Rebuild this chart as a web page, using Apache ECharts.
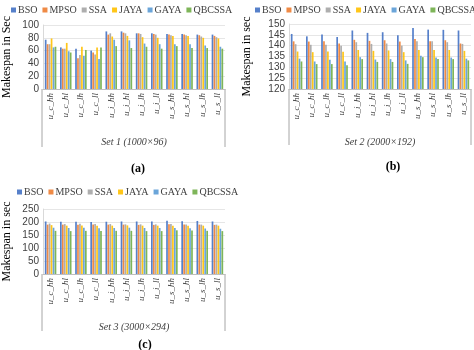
<!DOCTYPE html>
<html>
<head>
<meta charset="utf-8">
<script src="https://cdn.jsdelivr.net/npm/echarts@6/dist/echarts.min.js"></script>
<style>
  html, body { margin: 0; padding: 0; background: #fff; }
  #chart { width: 474px; height: 350px; }
</style>
</head>
<body>
<div id="chart"></div>
<script>
// categories and algorithms
const categories = ["u_c_hh", "u_c_hl", "u_c_lh", "u_c_ll", "u_i_hh", "u_i_hl", "u_i_lh", "u_i_ll", "u_s_hh", "u_s_hl", "u_s_lh", "u_s_ll"];
const algos = ["BSO", "MPSO", "SSA", "JAYA", "GAYA", "QBCSSA"];
const colors = ["#4472C4", "#ED7D31", "#A5A5A5", "#FFC000", "#5B9BD5", "#70AD47"];

// Set 1 (1000x96)
const set1BSO = [77, 65, 63, 60, 90, 90, 87, 87, 86, 86, 85, 85];
const set1MPSO = [70, 63, 48, 57, 85, 88, 87, 86, 85, 85, 84, 83];
const set1SSA = [70, 63, 53, 54, 87, 87, 86, 85, 84, 84, 82, 81];
const set1JAYA = [79, 72, 66, 65, 82, 83, 81, 80, 83, 83, 80, 79];
const set1GAYA = [65, 59, 52, 47, 77, 76, 71, 70, 70, 70, 68, 66];
const set1QBCSSA = [66, 57, 61, 65, 67, 64, 66, 63, 67, 64, 64, 63];

// Set 2 (2000x192)
const set2BSO = [145.4, 144.3, 145.1, 144.0, 147.0, 145.9, 146.2, 144.8, 148.2, 147.4, 147.3, 147.0];
const set2MPSO = [142.0, 141.9, 142.0, 141.0, 142.7, 142.2, 142.5, 141.9, 143.1, 142.0, 142.5, 141.0];
const set2SSA = [140.7, 140.4, 140.4, 140.0, 141.6, 140.8, 141.0, 140.0, 142.0, 142.0, 141.6, 140.8];
const set2JAYA = [137.3, 137.0, 137.3, 137.2, 138.0, 137.6, 137.8, 137.0, 138.0, 138.0, 138.0, 137.6];
const set2GAYA = [134.0, 132.7, 133.5, 132.7, 134.7, 133.6, 133.8, 133.2, 135.3, 134.5, 134.5, 134.0];
const set2QBCSSA = [132.7, 131.5, 131.5, 131.0, 133.8, 132.5, 132.5, 131.6, 134.7, 133.8, 133.8, 133.2];

// Set 3 (3000x294)
const set3BSO = [202, 201, 201, 200, 201, 202, 202, 202, 205, 203, 204, 202];
const set3MPSO = [190, 190, 189, 190, 190, 190, 189, 189, 191, 190, 190, 189];
const set3SSA = [194, 192, 193, 192, 192, 191, 191, 191, 192, 190, 190, 190];
const set3JAYA = [188, 186, 187, 186, 186, 187, 186, 186, 186, 186, 186, 186];
const set3GAYA = [178, 177, 178, 176, 177, 178, 177, 177, 177, 176, 175, 174];
const set3QBCSSA = [166, 165, 166, 165, 166, 166, 165, 165, 168, 167, 166, 165];

const sets = [
  [set1BSO, set1MPSO, set1SSA, set1JAYA, set1GAYA, set1QBCSSA],
  [set2BSO, set2MPSO, set2SSA, set2JAYA, set2GAYA, set2QBCSSA],
  [set3BSO, set3MPSO, set3SSA, set3JAYA, set3GAYA, set3QBCSSA],
];
const setNames = ["Set 1 (1000×96)", "Set 2 (2000×192)", "Set 3 (3000×294)"];
const yNames = ["Makespan in Sec", "Makespan in sec", "Makespan in sec"];
const yMin = [0, 120, 0];
const yMax = [100, 150, 250];
const yStep = [20, 5, 50];

const serif = "'Liberation Serif', 'DejaVu Serif', serif";
const sans = "'Liberation Sans', Arial, sans-serif";

// panel boxes: left, top, right edge, bottom edge
const boxes = [
  { l: 42, t: 25, r: 225, b: 89, lineEnd: 147, label: "(a)", lx: 133, ly: 158, legX: 6, legY: 0 },
  { l: 289, t: 24, r: 471, b: 89, lineEnd: 145, label: "(b)", lx: 388, ly: 156, legX: 250, legY: 0 },
  { l: 42, t: 209, r: 225, b: 274, lineEnd: 331, label: "(c)", lx: 140, ly: 334, legX: 12, legY: 182 },
];

const chart = echarts.init(document.getElementById("chart"));

const grid = boxes.map((b) => ({ left: b.l, top: b.t, width: b.r - b.l, height: b.b - b.t }));

const xAxis = boxes.map((b, i) => ({
  type: "category",
  gridIndex: i,
  data: categories,
  axisLine: { lineStyle: { color: "#bfbfbf" } },
  axisTick: { show: false },
  axisLabel: {
    rotate: 90,
    interval: 0,
    margin: 4,
    fontSize: 9,
    fontStyle: "italic",
    fontFamily: serif,
    color: "#404040",
  },
  name: setNames[i],
  nameLocation: "middle",
  nameGap: 48,
  nameTextStyle: { fontSize: 10, fontStyle: "italic", fontFamily: serif, color: "#404040" },
}));

const yAxis = boxes.map((b, i) => ({
  type: "value",
  gridIndex: i,
  min: yMin[i],
  max: yMax[i],
  interval: yStep[i],
  axisLine: { show: true, lineStyle: { color: "#d9d9d9" } },
  axisTick: { show: false },
  splitLine: { lineStyle: { color: "#e6e6e6" } },
  axisLabel: { fontSize: 10, fontFamily: sans, color: "#404040", margin: 4 },
  name: yNames[i],
  nameLocation: "middle",
  nameGap: i === 1 ? 36 : 30,
  nameTextStyle: { fontSize: 12, fontFamily: serif, color: "#000" },
}));

const series = [];
sets.forEach((set, i) => {
  set.forEach((vals, k) => {
    series.push({
      name: algos[k],
      type: "bar",
      xAxisIndex: i,
      yAxisIndex: i,
      data: vals,
      barGap: "15%",
      barCategoryGap: "24%",
      itemStyle: { color: colors[k], opacity: 0.9 },
    });
  });
});

const legend = boxes.map((b) => ({
  left: b.legX,
  top: b.legY,
  width: 230,
  data: algos,
  icon: "rect",
  itemWidth: 5,
  itemHeight: 5,
  itemGap: 5,
  textStyle: { fontSize: 10, fontFamily: serif, color: "#404040", padding: [0, 0, 0, -3] },
}));

const title = boxes.map((b) => ({
  text: b.label,
  left: b.lx,
  top: b.ly,
  textAlign: "center",
  textStyle: { fontSize: 12, fontWeight: "bold", fontFamily: serif, color: "#000" },
}));

// frame lines below the category axis (Excel style)
const graphic = [];
boxes.forEach((b) => {
  [b.l, b.r].forEach((x) => {
    graphic.push({
      type: "line",
      shape: { x1: x, y1: b.b, x2: x, y2: b.lineEnd },
      style: { stroke: "#a6a6a6", lineWidth: 1 },
    });
  });
});

chart.setOption({
  animation: false,
  backgroundColor: "#fff",
  title,
  legend,
  grid,
  xAxis,
  yAxis,
  series,
  graphic,
});
</script>
</body>
</html>
